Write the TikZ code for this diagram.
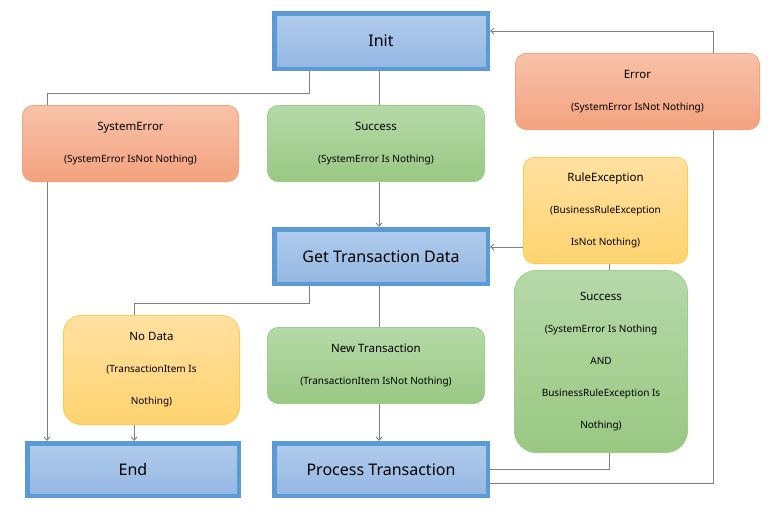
\documentclass[tikz,border=0pt]{standalone}
\usepackage{fontspec}
\setmainfont{Noto Sans}
\usetikzlibrary{arrows.meta,calc}
\definecolor{bb}{HTML}{5B9BD5}
\definecolor{bt}{HTML}{B0CCEC}\definecolor{bbot}{HTML}{94B7E2}
\definecolor{ot}{HTML}{F8C2AA}\definecolor{ob}{HTML}{F3A27E}\definecolor{od}{HTML}{F2A47F}
\definecolor{gt}{HTML}{B6D9A9}\definecolor{gb}{HTML}{99C882}\definecolor{gd}{HTML}{A0CC8D}
\definecolor{yt}{HTML}{FFE0A0}\definecolor{yb}{HTML}{FFD370}\definecolor{yd}{HTML}{FFCB4C}
\definecolor{ln}{HTML}{808080}
\tikzset{
 main/.style={draw=bb,line width=4.5pt,top color=bt,bottom color=bbot,font=\fontsize{16}{18}\selectfont\bfseries,inner sep=0pt},
 cond/.style={rounded corners=11pt,line width=0.8pt,inner sep=0pt,align=center,font=\fontsize{10}{32}\selectfont},
 org/.style={cond,draw=od,top color=ot,bottom color=ob},
 grn/.style={cond,draw=gd,top color=gt,bottom color=gb},
 yel/.style={cond,draw=yd,top color=yt,bottom color=yb},
 con/.style={draw=ln,line width=0.9pt},
 arr/.style={con,-{Straight Barb[length=3.5pt,width=6pt]}},
 bx/.style n args={3}{minimum width=#1pt-#3pt,minimum height=#2pt-#3pt}
}
\newcommand{\ttl}[1]{\textbf{\fontsize{11.5}{12}\selectfont #1}}
\begin{document}
\begin{tikzpicture}[x=1pt,y=-1pt]
\useasboundingbox (0,0) rectangle (768,520);
\coordinate (c1) at (47,93);
\coordinate (c2) at (134,303);
\coordinate (c3) at (609,469);
\coordinate (c4) at (713,483);
\coordinate (c5) at (713,31);
\coordinate (c6) at (609,247);
\node[main,bx={218}{60}{4.5}] (init) at (381,41) {Init};
\node[main,bx={218}{59}{4.5}] (gtd) at (381,256.5) {Get Transaction Data};
\node[main,bx={216}{57}{4.5}] (end) at (133,469.5) {End};
\node[main,bx={218}{57}{4.5}] (proc) at (381,469.5) {Process Transaction};
\draw[arr] ([xshift=-72]init.south) |- (c1) -- (c1 |- end.north);
\draw[arr] ([xshift=-2]init.south) -- ([xshift=-2]gtd.north);
\draw[arr] ([xshift=-72]gtd.south) |- (c2) -- (c2 |- end.north);
\draw[arr] ([xshift=-2]gtd.south) -- ([xshift=-2]proc.north);
\draw[arr] (proc.east |- c3) -- (c3) -- (c6) -- (gtd.east |- c6);
\draw[arr] (proc.east |- c4) -- (c4) -- (c5) -- (init.east |- c5);
\node[org,bx={217}{77}{0.8}] (se) at (130.5,143.5) {\ttl{SystemError}\\(SystemError IsNot Nothing)};
\node[grn,bx={218}{77}{0.8}] (s1) at (376,143.5) {\ttl{Success}\\(SystemError Is Nothing)};
\node[org,bx={245}{77}{0.8}] (err) at (637.5,91.5) {\ttl{Error}\\(SystemError IsNot Nothing)};
\node[yel,bx={165}{107}{0.8}] (re) at (605.5,210.5) {\ttl{RuleException}\\(BusinessRuleException\\IsNot Nothing)};
\node[grn,bx={174}{183}{0.8},rounded corners=22pt] (s2) at (601,361.5) {\ttl{Success}\\(SystemError Is Nothing\\AND\\BusinessRuleException Is\\Nothing)};
\node[yel,bx={177}{110}{0.8},rounded corners=18pt] (nd) at (151.5,370) {\ttl{No Data}\\(TransactionItem Is\\Nothing)};
\node[grn,bx={218}{77}{0.8}] (nt) at (376,365.5) {\ttl{New Transaction}\\(TransactionItem IsNot Nothing)};
\end{tikzpicture}
\end{document}
